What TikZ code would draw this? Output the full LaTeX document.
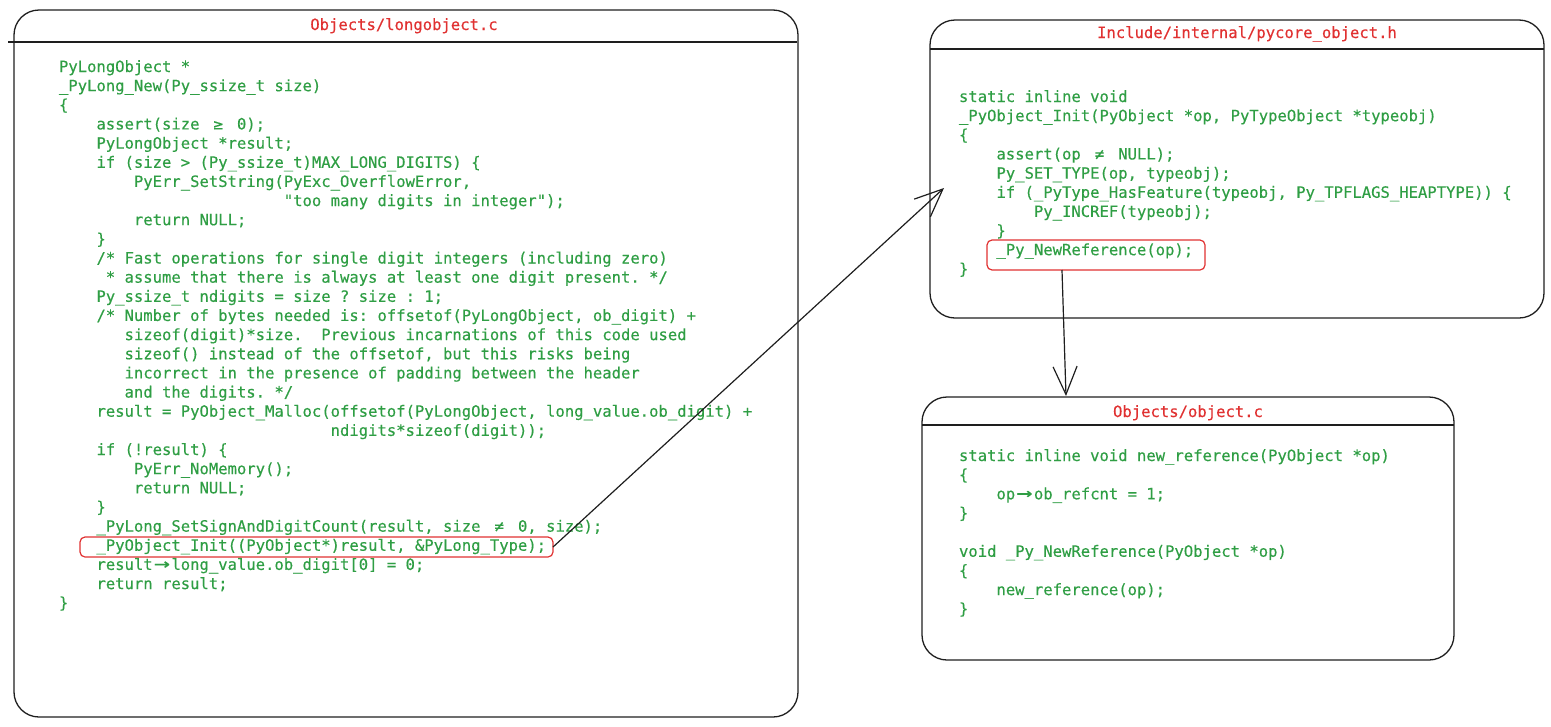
\documentclass[tikz,border=0pt]{standalone}
\usepackage{fontspec}
\usepackage{graphicx}
\setmonofont{DejaVu Sans Mono}[FakeBold=0.35]
\usetikzlibrary{arrows.meta,calc}
\definecolor{codegreen}{HTML}{2F9E44}
\definecolor{titlered}{HTML}{E03131}
\definecolor{ink}{HTML}{1E1E1E}
\newlength\cw \setlength\cw{9.368pt}
\newcommand\lig[1]{\makebox[2\cw]{#1}}
\newcommand\rarr{\makebox[2\cw]{\scalebox{1.7}[1.25]{→}}}
\newcommand\codefont{\ttfamily\fontsize{15.56pt}{19pt}\selectfont}
\newcommand\codeblock[4]{\foreach \lineText [count=\k from 0] in {#4}{\node[codeline] (#1-\k) at (#2,{#3+19.15*\k}) {\lineText};}}
\frenchspacing
\tikzset{
  panel/.style={draw=ink, line width=1.3pt, rounded corners=25pt, inner sep=0pt, outer sep=0pt},
  sepline/.style={draw=ink, line width=1.3pt},
  codeline/.style={anchor=base west, inner sep=0pt, outer sep=0pt, font=\codefont, text=codegreen},
  filetitle/.style={anchor=base, inner sep=0pt, font=\codefont, text=titlered},
  hl/.style={draw=titlered, line width=1.2pt, rounded corners=5pt, inner sep=0pt, outer sep=0pt},
  link/.style={draw=ink, line width=1.2pt, -{Straight Barb[length=28pt,width=24pt,line width=1.2pt]}}
}
\begin{document}
\begin{tikzpicture}[x=1pt,y=-1pt]
\useasboundingbox (0,0) rectangle (1551,726);
% panels
\node[panel, minimum width=784pt, minimum height=707pt] (boxL) at (406,363.5) {};
\node[panel, minimum width=614pt, minimum height=298pt] (boxR) at (1237,169) {};
\node[panel, minimum width=532pt, minimum height=263pt] (boxB) at (1188,528.5) {};
\draw[sepline] (8,42) -- (797,42);
\draw[sepline] (930,49) -- (1544,49);
\draw[sepline] (922,425) -- (1454,425);
% titles
\node[filetitle] (tL) at (404,30) {Objects/longobject.c};
\node[filetitle] (tR) at (1247,38) {Include/internal/pycore\_object.h};
\node[filetitle] (tB) at (1188,417) {Objects/object.c};
% code
\codeblock{L}{59}{72}{
{PyLongObject *},
{\_PyLong\_New(Py\_ssize\_t size)},
{\{},
{~~~~assert(size \lig{≥} 0);},
{~~~~PyLongObject *result;},
{~~~~if (size > (Py\_ssize\_t)MAX\_LONG\_DIGITS) \{},
{~~~~~~~~PyErr\_SetString(PyExc\_OverflowError,},
{~~~~~~~~~~~~~~~~~~~~~~~~"too many digits in integer");},
{~~~~~~~~return NULL;},
{~~~~\}},
{~~~~/* Fast operations for single digit integers (including zero)},
{~~~~~* assume that there is always at least one digit present. */},
{~~~~Py\_ssize\_t ndigits = size ? size : 1;},
{~~~~/* Number of bytes needed is: offsetof(PyLongObject, ob\_digit) +},
{~~~~~~~sizeof(digit)*size.~~Previous incarnations of this code used},
{~~~~~~~sizeof() instead of the offsetof, but this risks being},
{~~~~~~~incorrect in the presence of padding between the header},
{~~~~~~~and the digits. */},
{~~~~result = PyObject\_Malloc(offsetof(PyLongObject, long\_value.ob\_digit) +},
{~~~~~~~~~~~~~~~~~~~~~~~~~~~~~ndigits*sizeof(digit));},
{~~~~if (!result) \{},
{~~~~~~~~PyErr\_NoMemory();},
{~~~~~~~~return NULL;},
{~~~~\}},
{~~~~\_PyLong\_SetSignAndDigitCount(result, size \lig{≠} 0, size);},
{~~~~\_PyObject\_Init((PyObject*)result, \&PyLong\_Type);},
{~~~~result\rarr long\_value.ob\_digit[0] = 0;},
{~~~~return result;},
{\}}}
\codeblock{R}{959}{102}{
{static inline void},
{\_PyObject\_Init(PyObject *op, PyTypeObject *typeobj)},
{\{},
{~~~~assert(op \lig{≠} NULL);},
{~~~~Py\_SET\_TYPE(op, typeobj);},
{~~~~if (\_PyType\_HasFeature(typeobj, Py\_TPFLAGS\_HEAPTYPE)) \{},
{~~~~~~~~Py\_INCREF(typeobj);},
{~~~~\}},
{~~~~\_Py\_NewReference(op);},
{\}}}
\codeblock{B}{959}{461}{
{static inline void new\_reference(PyObject *op)},
{\{},
{~~~~op\rarr ob\_refcnt = 1;},
{\}},
{},
{void \_Py\_NewReference(PyObject *op)},
{\{},
{~~~~new\_reference(op);},
{\}}}
% highlights
\node[hl, minimum width=473pt, minimum height=20pt] (redL) at (316.5,547) {};
\node[hl, minimum width=218pt, minimum height=30pt] (redR) at (1096,255) {};
% connectors
\coordinate (a1e) at (944,188);
\coordinate (a2e) at (1066,396);
\draw[link] (redL.east) -- (a1e);
\draw[link] ([xshift=-34pt]redR.south) -- (a2e);
\end{tikzpicture}
\end{document}
